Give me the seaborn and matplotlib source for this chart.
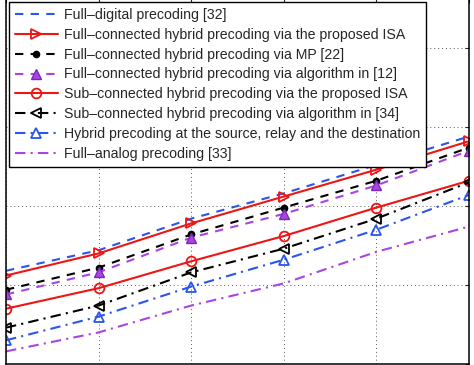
import numpy as np
import pandas as pd
import matplotlib
matplotlib.use("Agg")
import matplotlib.pyplot as plt
import seaborn as sns

# SNR axis (tick labels are cropped out of the reference)
snr = [0, 5, 10, 15, 20, 25]

# spectral efficiency
full_digital = [15.9, 17.2, 19.2, 20.8, 22.6, 24.4]
full_isa = [15.6, 17.0, 18.9, 20.6, 22.3, 24.1]
full_mp = [14.7, 16.1, 18.2, 19.9, 21.6, 23.7]
full_alg12 = [14.4, 15.8, 18.0, 19.5, 21.3, 23.5]
sub_isa = [13.5, 14.8, 16.5, 18.1, 19.9, 21.6]
sub_alg34 = [12.3, 13.7, 15.8, 17.3, 19.2, 21.5]
relay_hybrid = [11.5, 13.0, 14.9, 16.6, 18.5, 20.7]
full_analog = [10.8, 12.0, 13.7, 15.1, 17.1, 18.7]

labels = [
    "Full\u2013digital precoding [32]",
    "Full\u2013connected hybrid precoding via the proposed ISA",
    "Full\u2013connected hybrid precoding via MP [22]",
    "Full\u2013connected hybrid precoding via algorithm in [12]",
    "Sub\u2013connected hybrid precoding via the proposed ISA",
    "Sub\u2013connected hybrid precoding via algorithm in [34]",
    "Hybrid precoding at the source, relay and the destination",
    "Full\u2013analog precoding [33]",
]

sns.set_style("white")
plt.rcParams['font.family'] = ['Liberation Sans', 'DejaVu Sans']

blue = "#2a55ee"
red = "#ee1515"
purple = "#a945e6"
black = "#000000"

dash = (0, (4, 3.5))
dashdot = (0, (5, 2.5, 1, 2.5))

styles = [
    (full_digital, blue, dash, dict(marker=None)),
    (full_isa, red, "-", dict(marker=">", ms=7, mfc="none", mec=red, mew=1.3)),
    (full_mp, black, dash, dict(marker="o", ms=4.5, mfc=black, mec=black, mew=1)),
    (full_alg12, purple, dash, dict(marker="^", ms=7, mfc=purple, mec="#7a2ab0", mew=1)),
    (sub_isa, red, "-", dict(marker="o", ms=7, mfc="none", mec=red, mew=1.3)),
    (sub_alg34, black, dashdot, dict(marker="<", ms=7, mfc="none", mec=black, mew=1.3)),
    (relay_hybrid, blue, dashdot, dict(marker="^", ms=7, mfc="none", mec=blue, mew=1.3)),
    (full_analog, purple, dashdot, dict(marker=None)),
]

fig = plt.figure(figsize=(4.74, 3.65), dpi=100)
ax = fig.add_axes([6 / 474, 1 / 365, 463 / 474, 365 / 365])

for (vals, col, ls, mk), lab in zip(styles, labels):
    kw = dict(linestyle=ls, linewidth=1.5, color=col, label=lab)
    if mk["marker"] is not None:
        kw.update(marker=mk["marker"], markersize=mk["ms"], markerfacecolor=mk["mfc"],
                  markeredgecolor=mk["mec"], markeredgewidth=mk["mew"])
    sns.lineplot(x=snr, y=vals, ax=ax, **kw)

ax.set_xlim(0, 25)
ax.set_ylim(10, 10 + 365 * 5 / 79)
ax.set_xticks(snr)
ax.set_yticks([10, 15, 20, 25, 30])
# tick labels fall outside the cropped picture
ax.set_xticklabels([])
ax.set_yticklabels([])
ax.grid(True, linestyle=(0, (1, 3)), color="0.35", linewidth=0.7)
ax.tick_params(direction="in", top=True, right=True, length=3, width=0.8)
for sp in ax.spines.values():
    sp.set_color("black")
    sp.set_linewidth(1.1)
ax.set_xlabel("")
ax.set_ylabel("")

leg = ax.legend(loc="upper left", fontsize=10.2, handlelength=3.0, handletextpad=0.42,
                labelspacing=0.41, borderpad=0.42, borderaxespad=0.22,
                fancybox=False, framealpha=1, edgecolor="black", numpoints=1)
leg.get_frame().set_linewidth(1.0)

fig.savefig("out.png", dpi=100)
